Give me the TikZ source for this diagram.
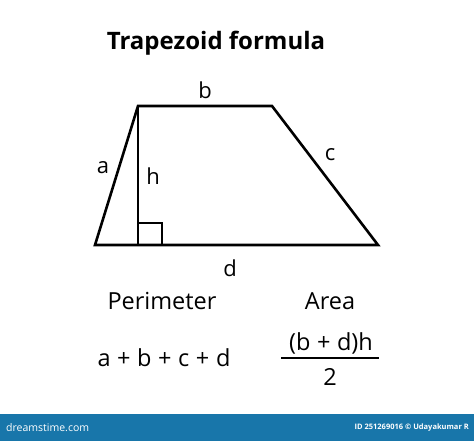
\documentclass[tikz,border=0pt]{standalone}
\usepackage{fontspec}
\setmainfont{Open Sans}
\newcommand{\pl}{\hspace{0.28em}+\hspace{0.28em}}
\begin{document}
\begin{tikzpicture}[x=1pt,y=-1pt,
  edge/.style={line width=2.6pt,line join=miter},
  lbl/.style={font=\fontsize{22}{26}\selectfont,inner sep=0pt},
  big/.style={font=\fontsize{23.5}{28}\selectfont,inner sep=0pt}]
\useasboundingbox (0,0) rectangle (474,441);
\fill[white] (0,0) rectangle (474,441);
% trapezoid
\coordinate (TL) at (138,106);
\coordinate (TR) at (272,106);
\coordinate (BR) at (378,245);
\coordinate (BL) at (95,245);
\coordinate (H) at (138,245);
\draw[edge] (BL) -- (TL) -- (TR) -- (BR) -- cycle;
\draw[edge] (TL) -- (H);
\draw[line width=2pt] (138,223) -- (162,223) -- (162,245);
% title
\node[font=\fontsize{24}{28}\selectfont\bfseries,inner sep=0pt] (title) at (216,43) {Trapezoid formula};
% labels
\node[lbl] (b) at (205,90) {b};
\node[lbl] (a) at (103,168) {a};
\node[lbl] (h) at (153,176) {h};
\node[lbl] (c) at (330,155) {c};
\node[lbl] (d) at (230,268) {d};
\node[big] (per) at (162,301) {Perimeter};
\node[big] (area) at (330,301) {Area};
\node[big] (sum) at (164,358) {a\pl b\pl c\pl d};
\node[big] (num) at (331,343) {(b\pl d)h};
\node[big] (den) at (330,377) {2};
\draw[line width=1.5pt] (281,358) -- (379,358);
% banner
\fill[fill={rgb,255:red,24;green,118;blue,170}] (0,414) rectangle (474,441);
\node[font=\fontsize{10.5}{12}\selectfont,text=white,anchor=west,inner sep=0pt] (ds) at (6,428) {dreamstime.com};
\node[font=\fontsize{7.5}{9}\selectfont\bfseries,text=white,anchor=east,inner sep=0pt] (id) at (469,428) {ID 251269016 © Udayakumar R};
\end{tikzpicture}
\end{document}
